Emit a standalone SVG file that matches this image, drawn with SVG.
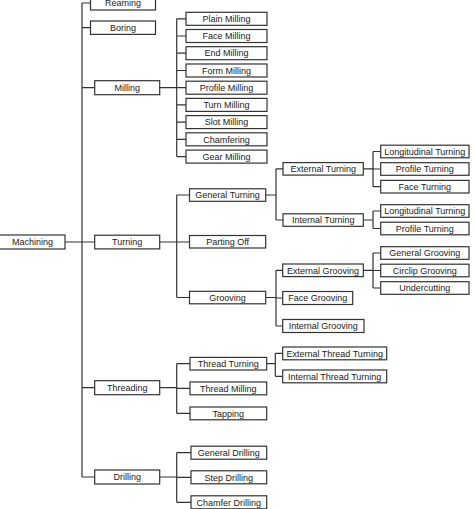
<svg xmlns="http://www.w3.org/2000/svg" width="474" height="509" viewBox="0 0 474 509">
<style>
.box{fill:#fff;stroke:#333;stroke-width:1.2}
.lbl{font-family:"Liberation Sans",Arial,sans-serif;font-size:9px;text-anchor:middle;fill:#222}
.conn{stroke:#333;stroke-width:1.2;fill:none}
</style>
<rect x="0" y="0" width="474" height="509" fill="#fff"/>
<g id="connectors" class="conn">
<path d="M82,3V477M82,3H90.5M82,27.7H90.5M82,87.7H94.7M65,242H94.7M82,387.7H94.7M82,477H94.7"/>
<path d="M159.7,87.7H176.7M176.7,18.8V156.6M176.7,18.8H186M176.7,36H186M176.7,53.2H186M176.7,70.5H186M176.7,87.7H186M176.7,104.9H186M176.7,122.1H186M176.7,139.3H186M176.7,156.6H186"/>
<path d="M159.7,242H176.7M176.7,195V297.5M176.7,195H189.5M176.7,242H189.5M176.7,297.5H189.5"/>
<path d="M265.7,195H276M276,168.8V220M276,168.8H283M276,220H283"/>
<path d="M363.3,168.8H373M373,151.5V186.7M373,151.5H380.7M373,169H380.7M373,186.7H380.7"/>
<path d="M363.3,220H373M373,211V228.5M373,211H380.7M373,228.5H380.7"/>
<path d="M265.7,297.5H276M276,270.3V326M276,270.3H282.7M276,298H282.7M276,326H282.7"/>
<path d="M363.3,270.3H373M373,253V288M373,253H380.7M373,270.5H380.7M373,288H380.7"/>
<path d="M159.7,387.7H176.7M176.7,363.7V413.3M176.7,363.7H190M176.7,388.3H190M176.7,413.3H190"/>
<path d="M266.7,363.7H275.3M275.3,353.3V376.3M275.3,353.3H282.7M275.3,376.3H282.7"/>
<path d="M159.7,477H176.7M176.7,452.7V502.3M176.7,452.7H191M176.7,477.3H191M176.7,502.3H191"/>
</g>

<g id="machining"><rect class="box" x="-1" y="235" width="66" height="14"/><text class="lbl" x="32.5" y="245.2">Machining</text></g>
<g id="reaming"><rect class="box" x="90.5" y="-4" width="65" height="14"/><text class="lbl" x="123" y="6.2">Reaming</text></g>
<g id="boring"><rect class="box" x="90.5" y="21" width="65" height="13.4"/><text class="lbl" x="123" y="30.9">Boring</text></g>
<g id="milling"><rect class="box" x="94.7" y="80.7" width="65" height="14"/><text class="lbl" x="127.2" y="90.9">Milling</text></g>
<g id="turning"><rect class="box" x="94.7" y="235.2" width="65" height="13.7"/><text class="lbl" x="127.2" y="245.2">Turning</text></g>
<g id="threading"><rect class="box" x="94.7" y="380.7" width="65" height="14"/><text class="lbl" x="127.2" y="390.9">Threading</text></g>
<g id="drilling"><rect class="box" x="94.7" y="470" width="65" height="14"/><text class="lbl" x="127.2" y="480.2">Drilling</text></g>

<g id="plain-milling"><rect class="box" x="186" y="12.3" width="81" height="13"/><text class="lbl" x="226.5" y="22">Plain Milling</text></g>
<g id="face-milling"><rect class="box" x="186" y="29.5" width="81" height="13"/><text class="lbl" x="226.5" y="39.2">Face Milling</text></g>
<g id="end-milling"><rect class="box" x="186" y="46.7" width="81" height="13"/><text class="lbl" x="226.5" y="56.4">End Milling</text></g>
<g id="form-milling"><rect class="box" x="186" y="64" width="81" height="13"/><text class="lbl" x="226.5" y="73.7">Form Milling</text></g>
<g id="profile-milling"><rect class="box" x="186" y="81.2" width="81" height="13"/><text class="lbl" x="226.5" y="90.9">Profile Milling</text></g>
<g id="turn-milling"><rect class="box" x="186" y="98.4" width="81" height="13"/><text class="lbl" x="226.5" y="108.1">Turn Milling</text></g>
<g id="slot-milling"><rect class="box" x="186" y="115.6" width="81" height="13"/><text class="lbl" x="226.5" y="125.3">Slot Milling</text></g>
<g id="chamfering"><rect class="box" x="186" y="132.8" width="81" height="13"/><text class="lbl" x="226.5" y="142.5">Chamfering</text></g>
<g id="gear-milling"><rect class="box" x="186" y="150.1" width="81" height="13"/><text class="lbl" x="226.5" y="159.8">Gear Milling</text></g>

<g id="general-turning"><rect class="box" x="189.5" y="188.8" width="76.2" height="12.5"/><text class="lbl" x="227.6" y="198.2">General Turning</text></g>
<g id="parting-off"><rect class="box" x="189.5" y="235.5" width="76.2" height="12.5"/><text class="lbl" x="227.6" y="244.9">Parting Off</text></g>
<g id="grooving"><rect class="box" x="189.5" y="291.3" width="76.2" height="12.5"/><text class="lbl" x="227.6" y="300.7">Grooving</text></g>

<g id="external-turning"><rect class="box" x="283" y="162.6" width="80.3" height="12.5"/><text class="lbl" x="323.2" y="172">External Turning</text></g>
<g id="internal-turning"><rect class="box" x="283" y="213.8" width="80.3" height="12.5"/><text class="lbl" x="323.2" y="223.2">Internal Turning</text></g>

<g id="ext-longitudinal-turning"><rect class="box" x="380.7" y="145.2" width="88.3" height="12.6"/><text class="lbl" x="424.8" y="154.7">Longitudinal Turning</text></g>
<g id="ext-profile-turning"><rect class="box" x="380.7" y="162.7" width="88.3" height="12.6"/><text class="lbl" x="424.8" y="172.2">Profile Turning</text></g>
<g id="face-turning"><rect class="box" x="380.7" y="180.4" width="88.3" height="12.6"/><text class="lbl" x="424.8" y="189.9">Face Turning</text></g>
<g id="int-longitudinal-turning"><rect class="box" x="380.7" y="204.7" width="88.3" height="12.6"/><text class="lbl" x="424.8" y="214.2">Longitudinal Turning</text></g>
<g id="int-profile-turning"><rect class="box" x="380.7" y="222.2" width="88.3" height="12.6"/><text class="lbl" x="424.8" y="231.7">Profile Turning</text></g>

<g id="external-grooving"><rect class="box" x="282.7" y="264" width="80.6" height="12.6"/><text class="lbl" x="323" y="273.5">External Grooving</text></g>
<g id="face-grooving"><rect class="box" x="282.7" y="291.5" width="70" height="13"/><text class="lbl" x="317.7" y="301.2">Face Grooving</text></g>
<g id="internal-grooving"><rect class="box" x="282.7" y="319.5" width="81.3" height="13"/><text class="lbl" x="323.3" y="329.2">Internal Grooving</text></g>

<g id="general-grooving"><rect class="box" x="380.7" y="246.7" width="88.3" height="12.6"/><text class="lbl" x="424.8" y="256.2">General Grooving</text></g>
<g id="circlip-grooving"><rect class="box" x="380.7" y="264.2" width="88.3" height="12.6"/><text class="lbl" x="424.8" y="273.7">Circlip Grooving</text></g>
<g id="undercutting"><rect class="box" x="380.7" y="281.7" width="88.3" height="12.6"/><text class="lbl" x="424.8" y="291.2">Undercutting</text></g>

<g id="thread-turning"><rect class="box" x="190" y="357.4" width="76.7" height="12.6"/><text class="lbl" x="228.3" y="366.9">Thread Turning</text></g>
<g id="thread-milling"><rect class="box" x="190" y="382" width="76.7" height="12.8"/><text class="lbl" x="228.3" y="391.6">Thread Milling</text></g>
<g id="tapping"><rect class="box" x="190" y="407" width="76.7" height="12.8"/><text class="lbl" x="228.3" y="416.6">Tapping</text></g>

<g id="external-thread-turning"><rect class="box" x="282.7" y="347" width="104" height="12.8"/><text class="lbl" x="334.7" y="356.6">External Thread Turning</text></g>
<g id="internal-thread-turning"><rect class="box" x="282.7" y="370" width="104" height="12.8"/><text class="lbl" x="334.7" y="379.6">Internal Thread Turning</text></g>

<g id="general-drilling"><rect class="box" x="191" y="446.2" width="75.7" height="13"/><text class="lbl" x="228.8" y="455.9">General Drilling</text></g>
<g id="step-drilling"><rect class="box" x="191" y="470.8" width="75.7" height="13"/><text class="lbl" x="228.8" y="480.5">Step Drilling</text></g>
<g id="chamfer-drilling"><rect class="box" x="191" y="495.8" width="75.7" height="13"/><text class="lbl" x="228.8" y="505.5">Chamfer Drilling</text></g>
</svg>
